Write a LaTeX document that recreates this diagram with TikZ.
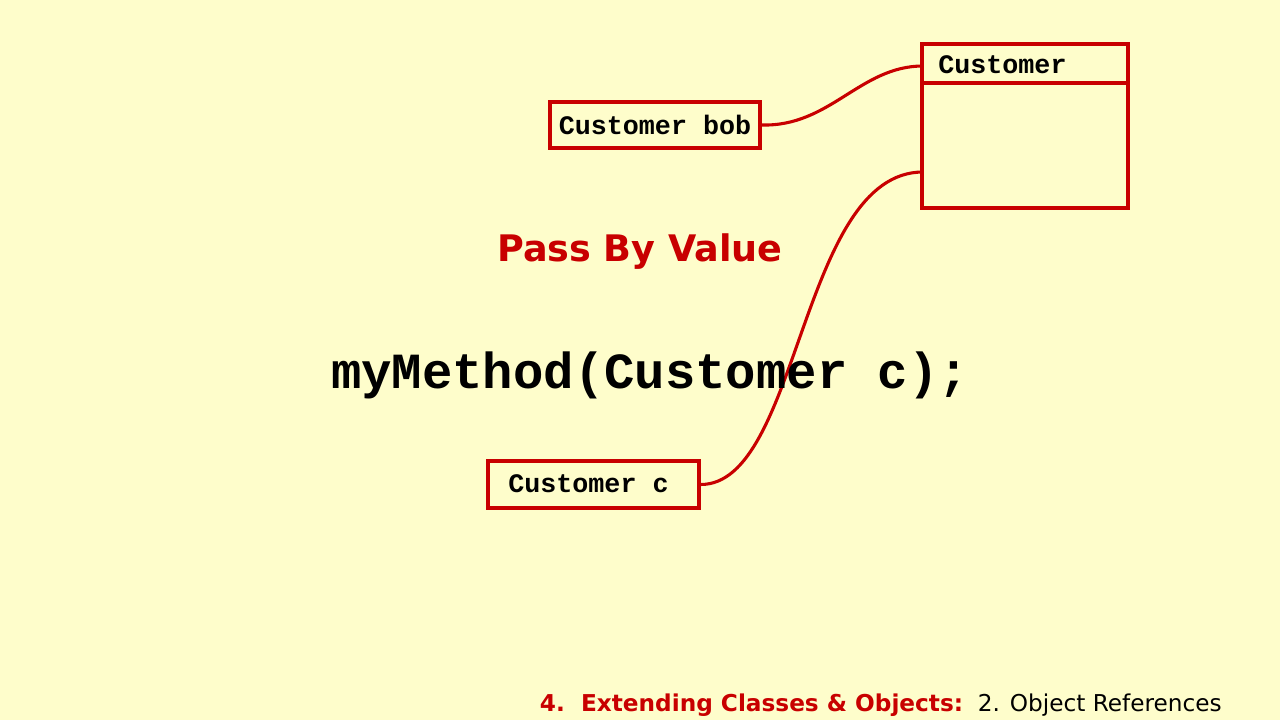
\documentclass[tikz,border=0pt]{standalone}
\usepackage{fontspec}
\setmainfont{DejaVu Sans}
\newfontfamily\mono{Liberation Mono}
\definecolor{bg}{HTML}{FEFDCB}
\definecolor{dred}{HTML}{C80000}
\begin{document}
\begin{tikzpicture}[x=0.025cm,y=-0.025cm,
  box/.style={draw=dred,line width=2.2pt,fill=bg,inner sep=0pt},
  lbl/.style={font=\mono\bfseries\fontsize{19}{19}\selectfont,inner sep=0pt},
  wire/.style={draw=dred,line width=2.2pt}]
\fill[bg] (0,0) rectangle (1280,720);
\useasboundingbox (0,0) rectangle (1280,720);
% connectors first
\coordinate (ctop) at (923,66);
\coordinate (cbot) at (923,172);
\node[box,minimum width=210*0.025cm,minimum height=46*0.025cm] (bob) at (655,125) {};
\node[box,minimum width=211*0.025cm,minimum height=47*0.025cm] (cc) at (593.5,484.5) {};
\node[box,minimum width=206*0.025cm,minimum height=164*0.025cm] (cls) at (1025,126) {};
\draw[wire] (bob.east) .. controls (830,127) and (860,66) .. (ctop);
\draw[wire] (cc.east) .. controls (800,485) and (800,172) .. (cbot);
\draw[dred,line width=2.2pt] (922,83) -- (1128,83);
\node[lbl] (bobt) at (bob.center) {Customer bob};
\node[lbl,anchor=west] (ct) at (508,484) {Customer c};
\node[lbl,anchor=west] (clst) at (938,65) {Customer};
\node[font=\bfseries\fontsize{26}{26}\selectfont,text=dred] (pbv) at (640,252) {Pass By Value};
\node[font=\mono\bfseries\fontsize{36}{36}\selectfont,inner sep=0pt] (call) at (650,375) {myMethod(Customer c);};
\node[anchor=east,font=\fontsize{16.5}{16.5}\selectfont,inner sep=0pt] (foot) at (1222,705)
  {\textcolor{dred}{\bfseries 4.\ \ Extending Classes \& Objects:}\ \ 2. Object References};
\end{tikzpicture}
\end{document}
